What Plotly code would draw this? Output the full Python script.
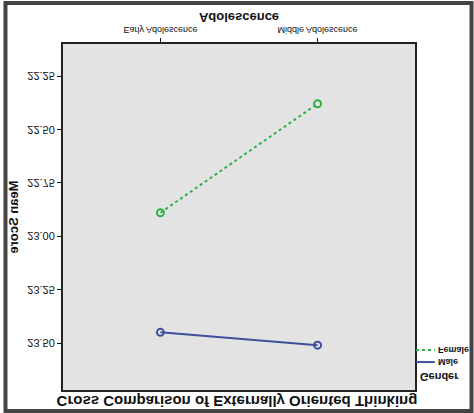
import plotly.graph_objects as go

categories = ["Early Adolescence", "Middle Adolescence"]
male = [23.45, 23.51]
female = [22.89, 22.38]
yticks = [22.25, 22.50, 22.75, 23.00, 23.25, 23.50]

fig = go.Figure()
fig.add_trace(go.Scatter(x=categories, y=male, name="Male", mode="lines+markers",
    line=dict(color="#3d4f9a", width=2),
    marker=dict(symbol="circle-open", size=7, color="#3d4f9a", line=dict(width=2))))
fig.add_trace(go.Scatter(x=categories, y=female, name="Female", mode="lines+markers",
    line=dict(color="#2fb04a", width=2, dash="dot"),
    marker=dict(symbol="circle-open", size=7, color="#2fb04a", line=dict(width=2))))

def px(x):
    return (x - 60) / 355
def py(y):
    return (370 - y) / 347

font = dict(family="Liberation Sans, Arial", color="#111", size=11)
fig.update_layout(
    width=474, height=413, margin=dict(l=60, r=59, t=23, b=43),
    paper_bgcolor="white", plot_bgcolor="#e3e3e3", font=font,
    title=dict(text="<b>Cross Comparison of Externally Oriented Thinking</b>", x=0.5, xanchor="center",
               y=0.985, yanchor="top", font=dict(size=15)),
    showlegend=False,
)
fig.update_xaxes(range=[-0.62, 1.62], showgrid=False, ticks="outside", ticklen=4, tickcolor="#111",
                 showline=True, linecolor="#222", linewidth=2, mirror=True,
                 tickfont=dict(size=9), title=dict(text="<b>Adolescence</b>", font=dict(size=13), standoff=4))
fig.update_yaxes(range=[22.1, 23.72], tickvals=yticks, ticktext=[f"{v:.2f}" for v in yticks],
                 showgrid=False, zeroline=False, ticks="outside", ticklen=4, tickcolor="#111",
                 showline=True, linecolor="#222", linewidth=2, mirror=True,
                 tickfont=dict(size=11), title=dict(text="<b>Mean Score</b>", font=dict(size=13), standoff=6))
# frame
fig.add_shape(type="rect", xref="paper", yref="paper", x0=px(2), x1=px(472), y0=py(411), y1=py(2),
              line=dict(color="#444", width=4))
# legend drawn manually
fig.add_annotation(text="<b>Gender</b>", xref="paper", yref="paper", x=px(418), y=py(36),
                   xanchor="left", yanchor="middle", showarrow=False, font=dict(size=11))
fig.add_shape(type="line", xref="paper", yref="paper", x0=px(416), x1=px(435), y0=py(51), y1=py(51),
              line=dict(color="#3d4f9a", width=2))
fig.add_annotation(text="<b>Male</b>", xref="paper", yref="paper", x=px(436), y=py(51),
                   xanchor="left", yanchor="middle", showarrow=False, font=dict(size=9))
fig.add_shape(type="line", xref="paper", yref="paper", x0=px(416), x1=px(435), y0=py(63), y1=py(63),
              line=dict(color="#2fb04a", width=2, dash="dot"))
fig.add_annotation(text="<b>Female</b>", xref="paper", yref="paper", x=px(436), y=py(63),
                   xanchor="left", yanchor="middle", showarrow=False, font=dict(size=9))

post = ("document.body.style.margin='0';"
        "var d=document.querySelector('.plotly-graph-div');d.style.transform='scaleY(-1)';")
fig.write_html("out.html", post_script=post, config={"displayModeBar": False})
